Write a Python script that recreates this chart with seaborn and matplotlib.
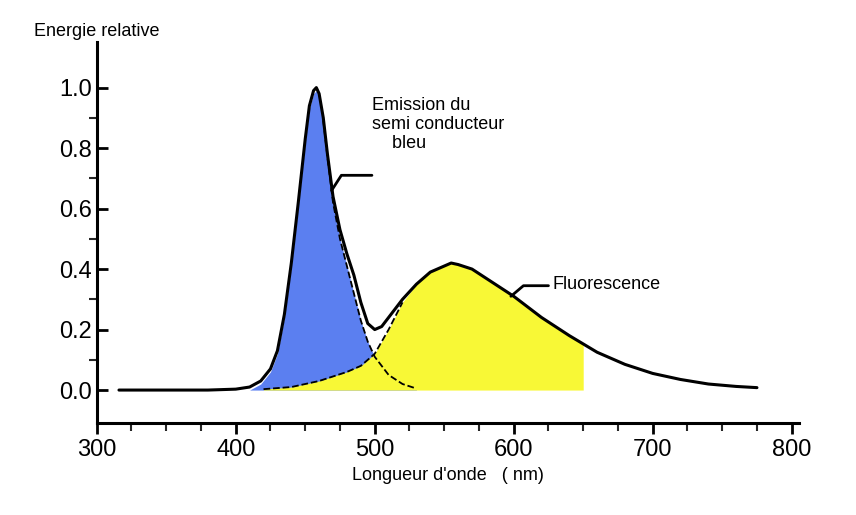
import matplotlib
matplotlib.use("Agg")
import matplotlib.pyplot as plt
import seaborn as sns
import numpy as np

wl = [316, 380, 400, 410, 418, 425, 430, 435, 440, 445, 450, 453, 456, 458, 460, 463, 466, 470, 475, 480, 485, 490, 495, 500, 505, 510, 520, 530, 540, 550, 555, 560, 570, 580, 590, 600, 620, 640, 660, 680, 700, 720, 740, 760, 775]
total = [0.0, 0.0, 0.003, 0.01, 0.03, 0.07, 0.13, 0.25, 0.42, 0.62, 0.83, 0.94, 0.99, 1.0, 0.98, 0.9, 0.78, 0.64, 0.53, 0.45, 0.38, 0.29, 0.22, 0.2, 0.21, 0.24, 0.3, 0.35, 0.39, 0.41, 0.42, 0.415, 0.4, 0.37, 0.34, 0.31, 0.24, 0.18, 0.125, 0.085, 0.055, 0.035, 0.02, 0.012, 0.008]
blue_wl = [410, 418, 425, 430, 435, 440, 445, 450, 453, 456, 458, 460, 463, 466, 470, 475, 480, 485, 490, 495, 500, 510, 520, 530]
blue = [0.0, 0.02, 0.06, 0.12, 0.24, 0.41, 0.61, 0.82, 0.93, 0.98, 0.99, 0.97, 0.89, 0.77, 0.62, 0.5, 0.41, 0.32, 0.23, 0.16, 0.11, 0.05, 0.02, 0.005]
phos_wl = [420, 440, 460, 480, 490, 500, 510, 520, 530, 540, 550, 555, 560, 570, 580, 590, 600, 620, 640, 650]
phos = [0.003, 0.01, 0.03, 0.06, 0.08, 0.12, 0.2, 0.29, 0.35, 0.39, 0.41, 0.42, 0.415, 0.4, 0.37, 0.34, 0.31, 0.24, 0.18, 0.15]

sns.set_style("ticks")
plt.rcParams['font.family'] = ['Liberation Sans', 'DejaVu Sans']
fig = plt.figure(figsize=(8.56, 5.15), dpi=100)
ax = fig.add_axes([0.113, 0.178, 0.82, 0.74])

ax.fill_between(blue_wl, blue, 0, color="#5b7ff0", lw=0)
ax.fill_between(phos_wl, phos, 0, color="#f8f836", lw=0)
ax.plot(blue_wl[12:], blue[12:], color="black", ls="--", lw=1.3)
ax.plot(phos_wl[:8], phos[:8], color="black", ls="--", lw=1.3)
sns.lineplot(x=wl, y=total, ax=ax, color="black", lw=2.2)

ax.set_xlim(300, 805)
ax.set_ylim(-0.11, 1.15)
ax.set_xticks([300, 400, 500, 600, 700, 800])
ax.set_xticks(np.arange(325, 800, 25), minor=True)
ax.set_yticks([0.0, 0.2, 0.4, 0.6, 0.8, 1.0])
ax.set_yticklabels(["0.0", "0.2", "0.4", "0.6", "0.8", "1.0"])
ax.set_yticks(np.arange(0.1, 1.0, 0.2), minor=True)
ax.tick_params(axis="both", labelsize=17, width=2, length=8, direction="in", colors="black")
ax.tick_params(axis="x", direction="out")
ax.tick_params(which="minor", width=1.5, length=6)
sns.despine(ax=ax)
for s in ["left", "bottom"]:
    ax.spines[s].set_linewidth(2.2)
    ax.spines[s].set_color("black")
ax.spines["bottom"].set_position(("data", -0.11))

ax.set_xlabel("Longueur d'onde   ( nm)", fontsize=13, color="black")
fig.text(0.04, 0.93, "Energie relative", fontsize=13, color="black")

ax.plot([469, 476, 498], [0.66, 0.71, 0.71], color="black", lw=2)
ax.text(498, 0.97, "Emission du\nsemi conducteur\n    bleu", fontsize=13, ha="left", va="top", linespacing=1.15, color="black")
ax.plot([598, 607, 625], [0.31, 0.345, 0.345], color="black", lw=2)
ax.text(628, 0.35, "Fluorescence", fontsize=13, va="center", color="black")

fig.savefig("out.png", dpi=100)
